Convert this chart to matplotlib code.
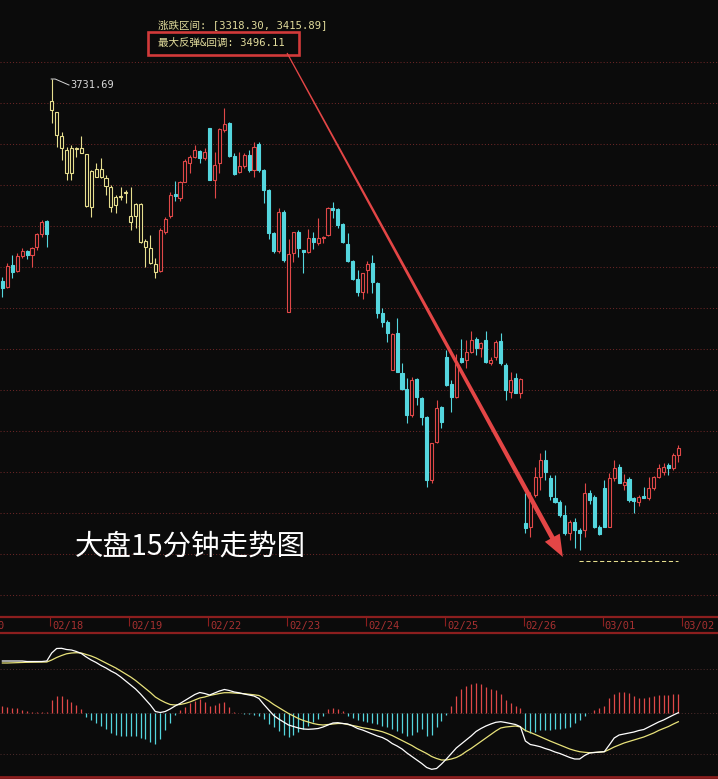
import numpy as np
import matplotlib
matplotlib.use('Agg')
import matplotlib.pyplot as plt
from matplotlib.patches import Rectangle, Polygon
from matplotlib.transforms import IdentityTransform, blended_transform_factory

# ---------------- data ----------------
first_index = -10          # bar index of the first candle (0 = first bar of 02/18)
opens = [3630.9, 3627.9, 3638.7, 3635.9, 3643.2, 3645.7, 3643.7, 3647.9, 3654.2, 3660.7,
         3720.7, 3715.2, 3703.2, 3696.2, 3684.7, 3697.4, 3694.7, 3694.2, 3667.7, 3686.7,
         3682.7, 3682.2, 3677.7, 3668.7, 3673.2, 3674.7, 3663.2, 3663.2, 3669.2, 3650.9,
         3647.2, 3639.2, 3635.7, 3655.2, 3663.2, 3674.2, 3672.2, 3680.2, 3689.7, 3692.7,
         3695.7, 3692.2, 3707.2, 3681.2, 3689.7, 3706.2, 3709.7, 3693.2, 3685.2, 3688.2,
         3693.7, 3686.2, 3699.2, 3686.2, 3676.2, 3654.7, 3645.7, 3665.2, 3615.2, 3644.7,
         3655.2, 3646.2, 3645.2, 3652.2, 3649.7, 3652.2, 3653.7, 3667.2, 3666.7, 3659.2,
         3649.2, 3640.7, 3631.7, 3625.2, 3636.2, 3639.7, 3629.7, 3614.7, 3610.2, 3586.2,
         3604.7, 3584.7, 3576.7, 3563.7, 3581.7, 3572.2, 3562.7, 3531.2, 3550.2, 3567.7,
         3592.7, 3579.2, 3572.7, 3592.2, 3591.2, 3595.2, 3601.7, 3597.2, 3601.2, 3589.7,
         3592.7, 3600.7, 3588.7, 3575.2, 3582.2, 3574.7, 3509.7, 3507.7, 3523.7, 3532.7,
         3541.2, 3532.2, 3522.2, 3520.2, 3513.7, 3504.7, 3510.2, 3506.2, 3506.2, 3524.7,
         3522.7, 3507.7, 3527.2, 3507.7, 3532.2, 3537.7, 3528.7, 3531.7, 3522.2, 3520.2,
         3523.2, 3522.2, 3527.2, 3532.7, 3535.2, 3538.7, 3537.2, 3543.7]
highs = [3632.9, 3639.6, 3643.7, 3644.9, 3647.2, 3646.2, 3647.9, 3654.6, 3661.2, 3661.2,
         3731.69, 3715.2, 3705.2, 3697.7, 3698.7, 3697.9, 3703.2, 3694.2, 3686.2, 3689.7,
         3692.2, 3683.7, 3678.7, 3673.7, 3677.7, 3676.2, 3677.7, 3669.7, 3669.7, 3651.7,
         3653.7, 3642.2, 3657.2, 3662.7, 3675.2, 3680.7, 3680.7, 3691.7, 3693.7, 3698.7,
         3696.2, 3697.2, 3707.2, 3695.2, 3707.2, 3717.2, 3710.2, 3694.7, 3695.2, 3694.7,
         3696.2, 3700.2, 3700.2, 3686.7, 3676.7, 3655.2, 3667.2, 3666.2, 3651.7, 3655.2,
         3656.2, 3646.2, 3656.7, 3655.2, 3662.2, 3653.2, 3667.7, 3670.2, 3667.2, 3659.7,
         3654.7, 3641.2, 3636.2, 3634.7, 3640.7, 3643.7, 3630.2, 3617.2, 3611.2, 3604.7,
         3612.2, 3589.7, 3582.2, 3582.7, 3582.2, 3572.7, 3563.2, 3549.7, 3571.2, 3568.2,
         3596.2, 3581.2, 3594.2, 3601.7, 3601.2, 3605.7, 3602.7, 3600.2, 3605.7, 3592.7,
         3601.2, 3604.7, 3589.7, 3585.2, 3584.7, 3582.2, 3524.7, 3525.2, 3537.7, 3544.7,
         3546.2, 3533.7, 3533.7, 3521.2, 3518.7, 3511.2, 3512.2, 3507.2, 3529.7, 3526.2,
         3523.7, 3508.7, 3531.2, 3534.7, 3541.2, 3539.2, 3534.2, 3532.7, 3522.7, 3523.7,
         3527.7, 3532.7, 3533.2, 3539.2, 3539.7, 3539.7, 3544.7, 3548.7]
lows = [3622.9, 3627.1, 3632.2, 3635.4, 3642.2, 3641.6, 3637.5, 3646.2, 3652.9, 3647.9,
        3709.7, 3697.7, 3691.2, 3681.2, 3681.2, 3692.9, 3694.7, 3667.9, 3662.7, 3682.7,
        3682.2, 3673.7, 3665.2, 3664.7, 3671.2, 3669.7, 3656.2, 3657.2, 3649.7, 3637.9,
        3639.2, 3632.2, 3635.2, 3654.2, 3662.2, 3670.7, 3670.7, 3680.2, 3684.7, 3692.2,
        3689.7, 3691.2, 3681.2, 3672.2, 3684.7, 3705.2, 3692.7, 3683.7, 3684.7, 3687.2,
        3685.2, 3682.7, 3685.2, 3669.7, 3651.7, 3644.7, 3644.7, 3640.2, 3615.2, 3640.2,
        3642.7, 3634.9, 3644.7, 3646.7, 3648.7, 3649.7, 3653.2, 3662.2, 3657.2, 3649.7,
        3640.2, 3631.2, 3623.2, 3621.7, 3624.7, 3624.7, 3612.2, 3607.7, 3600.2, 3586.2,
        3585.2, 3576.2, 3559.7, 3562.7, 3568.7, 3558.7, 3527.7, 3529.7, 3549.7, 3557.2,
        3578.2, 3565.2, 3572.2, 3589.7, 3587.2, 3594.7, 3593.7, 3592.7, 3589.7, 3588.7,
        3591.2, 3588.7, 3571.2, 3572.2, 3574.7, 3572.2, 3504.7, 3502.7, 3522.7, 3526.2,
        3531.2, 3521.2, 3519.7, 3512.7, 3503.7, 3501.2, 3497.2, 3496.1, 3502.7, 3519.2,
        3507.2, 3503.7, 3507.7, 3507.7, 3530.7, 3529.7, 3526.2, 3520.2, 3514.7, 3518.2,
        3522.2, 3521.2, 3526.2, 3532.2, 3533.7, 3533.7, 3536.2, 3540.2]
closes = [3627.1, 3638.4, 3635.4, 3643.2, 3645.7, 3643.6, 3647.4, 3654.1, 3660.4, 3654.2,
          3716.2, 3703.7, 3697.2, 3684.7, 3697.2, 3696.7, 3697.2, 3668.2, 3685.7, 3682.7,
          3686.7, 3678.2, 3667.7, 3672.7, 3672.6, 3675.2, 3660.2, 3669.2, 3650.2, 3647.5,
          3639.7, 3635.2, 3656.2, 3661.7, 3673.7, 3673.2, 3680.2, 3690.7, 3692.7, 3696.2,
          3692.2, 3695.2, 3681.2, 3688.7, 3706.7, 3709.2, 3693.2, 3684.2, 3688.2, 3693.7,
          3686.2, 3697.7, 3686.2, 3676.2, 3654.7, 3645.7, 3665.2, 3641.2, 3644.2, 3655.2,
          3647.2, 3645.2, 3652.2, 3650.2, 3652.2, 3652.7, 3667.2, 3666.2, 3658.7, 3650.2,
          3640.7, 3631.7, 3625.2, 3634.7, 3639.2, 3630.2, 3614.7, 3610.2, 3604.7, 3604.2,
          3585.2, 3576.7, 3563.7, 3581.2, 3572.7, 3562.7, 3531.2, 3549.7, 3567.2, 3560.2,
          3578.7, 3572.7, 3589.2, 3590.2, 3595.2, 3601.2, 3597.2, 3599.7, 3590.2, 3591.2,
          3600.2, 3589.7, 3576.2, 3581.2, 3574.7, 3581.7, 3507.2, 3521.2, 3532.7, 3541.2,
          3535.2, 3523.2, 3520.2, 3513.7, 3504.7, 3510.2, 3506.2, 3504.7, 3524.7, 3521.2,
          3507.7, 3504.2, 3507.7, 3532.2, 3537.2, 3529.7, 3530.2, 3521.2, 3520.7, 3522.7,
          3522.2, 3527.2, 3532.7, 3537.2, 3537.7, 3537.2, 3543.7, 3547.2]
highlight_first, highlight_last = 0, 21     # selected interval (drawn in yellow)

dif = [5.17, 5.17, 5.17, 5.17, 5.17, 5.12, 5.12, 5.12, 5.12, 5.17,
       5.97, 6.42, 6.44, 6.32, 6.27, 6.12, 5.92, 5.57, 5.27, 5.02,
       4.72, 4.47, 4.17, 3.92, 3.57, 3.17, 2.77, 2.37, 1.87, 1.32,
       0.77, 0.12, 0.02, 0.12, 0.37, 0.67, 0.92, 1.22, 1.52, 1.82,
       2.02, 1.92, 1.77, 1.97, 2.17, 2.32, 2.22, 2.07, 1.99, 1.87,
       1.77, 1.67, 1.42, 0.82, 0.27, -0.28, -0.63, -0.93, -1.23, -1.38,
       -1.53, -1.63, -1.66, -1.63, -1.58, -1.43, -1.23, -1.03, -1.00, -1.08,
       -1.13, -1.33, -1.58, -1.73, -1.93, -2.13, -2.33, -2.48, -2.73, -3.08,
       -3.33, -3.63, -4.03, -4.38, -4.73, -5.08, -5.48, -5.66, -5.58, -5.13,
       -4.63, -4.08, -3.53, -3.13, -2.73, -2.33, -1.88, -1.58, -1.33, -1.13,
       -0.96, -0.90, -0.98, -1.08, -1.18, -1.40, -2.83, -3.18, -3.28, -3.40,
       -3.58, -3.73, -3.93, -4.08, -4.28, -4.48, -4.63, -4.63, -4.28, -4.03,
       -3.98, -3.93, -3.90, -3.23, -2.53, -2.23, -2.13, -2.03, -1.93, -1.78,
       -1.68, -1.43, -1.18, -0.93, -0.73, -0.48, -0.23, 0.00]
dea = [4.97, 4.97, 4.99, 5.01, 5.03, 5.04, 5.05, 5.06, 5.07, 5.07,
       5.27, 5.52, 5.72, 5.89, 5.97, 6.00, 5.97, 5.82, 5.67, 5.47,
       5.22, 4.97, 4.72, 4.47, 4.17, 3.87, 3.57, 3.22, 2.82, 2.42,
       2.02, 1.57, 1.27, 1.02, 0.82, 0.77, 0.82, 0.92, 1.07, 1.27,
       1.47, 1.57, 1.72, 1.82, 1.92, 2.00, 2.00, 1.97, 1.94, 1.90,
       1.85, 1.79, 1.72, 1.47, 1.17, 0.82, 0.52, 0.22, -0.08, -0.33,
       -0.58, -0.78, -0.93, -1.08, -1.18, -1.23, -1.18, -1.13, -1.08, -1.08,
       -1.18, -1.28, -1.38, -1.50, -1.58, -1.68, -1.78, -1.90, -2.08, -2.28,
       -2.53, -2.78, -3.03, -3.28, -3.58, -3.83, -4.08, -4.38, -4.58, -4.73,
       -4.73, -4.63, -4.48, -4.23, -3.88, -3.58, -3.23, -2.88, -2.53, -2.18,
       -1.83, -1.53, -1.43, -1.38, -1.33, -1.43, -1.78, -1.98, -2.18, -2.40,
       -2.63, -2.83, -3.03, -3.23, -3.43, -3.63, -3.78, -3.90, -3.96, -4.00,
       -3.98, -3.95, -3.90, -3.68, -3.43, -3.23, -3.03, -2.88, -2.73, -2.58,
       -2.43, -2.23, -2.03, -1.78, -1.58, -1.38, -1.13, -0.90]
macd_hist = [0.64, 0.60, 0.50, 0.44, 0.27, 0.12, 0.07, 0.04, 0.02, 0.05,
             1.27, 1.62, 1.67, 1.37, 1.02, 0.77, 0.32, -0.43, -0.78, -1.03,
             -1.33, -1.68, -2.08, -2.28, -2.33, -2.38, -2.33, -2.38, -2.53, -2.68,
             -2.90, -3.18, -2.63, -1.73, -1.03, -0.23, 0.22, 0.57, 0.92, 1.17,
             1.32, 1.07, 0.62, 0.77, 0.92, 1.02, 0.57, 0.07, -0.08, -0.13,
             -0.18, -0.23, -0.33, -0.63, -1.13, -1.48, -1.83, -2.28, -2.46, -2.28,
             -1.93, -1.63, -1.33, -0.93, -0.63, -0.38, 0.32, 0.47, 0.37, 0.17,
             -0.33, -0.58, -0.73, -0.88, -0.93, -1.03, -1.18, -1.33, -1.48, -1.68,
             -1.83, -2.08, -2.38, -2.23, -1.93, -1.63, -2.33, -2.28, -1.43, -0.83,
             -0.23, 0.67, 1.67, 2.32, 2.62, 2.82, 2.92, 2.87, 2.52, 2.37,
             2.27, 1.87, 1.27, 0.94, 0.67, 0.47, -1.88, -2.06, -1.98, -1.78,
             -1.73, -1.78, -1.63, -1.68, -1.58, -1.43, -1.08, -0.78, -0.33, -0.03,
             0.22, 0.42, 0.67, 1.42, 1.87, 2.02, 2.07, 1.92, 1.67, 1.47,
             1.44, 1.52, 1.62, 1.74, 1.77, 1.77, 1.84, 1.87]

day_labels = ['02/10', '02/18', '02/19', '02/22', '02/23', '02/24', '02/25', '02/26', '03/01', '03/02']
day_start = [-16, 0, 16, 32, 48, 64, 80, 96, 112, 128]

price_grid = [3740.2, 3719.7, 3699.2, 3678.7, 3658.2, 3637.7, 3617.2, 3596.7,
              3576.2, 3555.7, 3535.2, 3514.7, 3494.2, 3473.7]
macd_grid = [4.34, 0.0, -4.16]

peak_index, peak_value = 0, 3731.69
support_level, support_from, support_to = 3490.7, 106.9, 126.9
arrow_from = (47.7, 3744.7)
arrow_to = (103.6, 3492.7)

range_text = '涨跌区间: [3318.30, 3415.89]'
rebound_text = '最大反弹&回调: 3496.11'
title_text = '大盘15分钟走势图'

# ---------------- style ----------------
BG = '#0b0b0b'
RED = '#e04848'
CYAN = '#54d6de'
YELLOW = '#e6de8e'
GRID = '#6a2626'
AXRED = '#8c1e1e'
LBLRED = '#a63030'
MONO = ['DejaVu Sans Mono', 'Noto Sans CJK SC']

W_PX, H_PX = 718, 779
fig = plt.figure(figsize=(W_PX / 100, H_PX / 100), dpi=100, facecolor=BG)

def fy(py):
    return 1 - py / H_PX

XLIM = (-10.48, 135.04)

# main price panel
ax = fig.add_axes([0, fy(617), 1, 617 / H_PX])
ax.set_facecolor(BG)
ax.set_xlim(*XLIM)
ax.set_ylim(3462.7, 3771.2)
for s in ax.spines.values():
    s.set_visible(False)
ax.set_xticks([])
ax.set_yticks([])

ax.hlines(price_grid, XLIM[0], XLIM[1], colors=GRID, linestyles=(0, (1, 2)), lw=0.75, zorder=0)

BW = 0.62
n = len(opens)
for i in range(n):
    k = first_index + i
    o, h, l, c = opens[i], highs[i], lows[i], closes[i]
    if highlight_first <= k <= highlight_last:
        col, fill = YELLOW, BG
    elif c >= o:
        col, fill = RED, BG
    else:
        col, fill = CYAN, CYAN
    top, bot = max(o, c), min(o, c)
    if top - bot < 0.6:
        m = (top + bot) / 2
        top, bot = m + 0.3, m - 0.3
    if fill == BG:
        ax.vlines(k, top, h, colors=col, lw=0.8, zorder=2)
        ax.vlines(k, l, bot, colors=col, lw=0.8, zorder=2)
    else:
        ax.vlines(k, l, h, colors=col, lw=0.8, zorder=2)
    ax.add_patch(Rectangle((k - BW / 2, bot), BW, top - bot, facecolor=fill,
                           edgecolor=col, lw=0.8, zorder=3))

# peak label
ax.plot([peak_index - 0.1, peak_index + 0.7, peak_index + 3.5],
        [peak_value, peak_value, peak_value - 3.0], color='#d8d8d8', lw=0.7, zorder=4)
ax.text(peak_index + 3.8, peak_value - 3.0, '3731.69', color='#d8d8d8', fontsize=7.5,
        family=MONO, ha='left', va='center', zorder=4)

# support dashed line
ax.hlines(support_level, support_from, support_to, colors=YELLOW, lw=0.75,
          linestyles=(0, (4, 2.6)), zorder=4)

# MACD panel
ax2 = fig.add_axes([0, fy(777), 1, 144 / H_PX])
ax2.set_facecolor(BG)
ax2.set_xlim(*XLIM)
ax2.set_ylim(-6.43, 7.97)
for s in ax2.spines.values():
    s.set_visible(False)
ax2.spines['bottom'].set_visible(True)
ax2.spines['bottom'].set_color(AXRED)
ax2.spines['bottom'].set_linewidth(2)
ax2.set_xticks([])
ax2.set_yticks([])
ax2.hlines(macd_grid, XLIM[0], XLIM[1], colors='#4a2a2a', linestyles=(0, (1, 2)), lw=0.75, zorder=0)
ks = np.arange(first_index, first_index + n)
hist = np.array(macd_hist)
ax2.vlines(ks[hist >= 0], 0, hist[hist >= 0], colors=RED, lw=0.9, zorder=2)
ax2.vlines(ks[hist < 0], 0, hist[hist < 0], colors=CYAN, lw=0.9, zorder=2)
ax2.plot(ks, dea, color='#e8e27a', lw=0.9, zorder=3)
ax2.plot(ks, dif, color='#ffffff', lw=0.9, zorder=4)

# date band
axb = fig.add_axes([0, fy(633), 1, 16 / H_PX])
axb.set_facecolor(BG)
axb.set_xlim(*XLIM)
axb.set_ylim(0, 1)
axb.set_xticks([])
axb.set_yticks([])
for side in ['left', 'right']:
    axb.spines[side].set_visible(False)
for side in ['top', 'bottom']:
    axb.spines[side].set_color(AXRED)
    axb.spines[side].set_linewidth(1.6)
for lab, k in zip(day_labels, day_start):
    axb.vlines(k - 0.25, 0.45, 1.0, colors=AXRED, lw=0.8)
    axb.text(k + 0.1, 0.45, lab, color=LBLRED, fontsize=7.5, family=MONO,
             ha='left', va='center', clip_on=True)

# header texts and box
fig.text(158 / W_PX, fy(25), range_text, color='#e2dc9c', fontsize=7.6, family=MONO,
         ha='left', va='center')
fig.text(158 / W_PX, fy(43), rebound_text, color='#e2dc9c', fontsize=7.6, family=MONO,
         ha='left', va='center')
fig.add_artist(Rectangle((148 / W_PX, fy(55)), 151 / W_PX, 23 / H_PX, fill=False,
                         edgecolor='#d23a3a', lw=1.9, transform=fig.transFigure))

# big caption
fig.text(75 / W_PX, fy(547), title_text, color='white', fontsize=20.5,
         family=['Noto Sans CJK SC'], ha='left', va='center')

# tapered red arrow
p0 = ax.transData.transform(arrow_from)
p1 = ax.transData.transform(arrow_to)
d = p1 - p0
u = d / np.hypot(*d)
nv = np.array([-u[1], u[0]])
head_len, head_w, w0, w1 = 22, 8.5, 0.6, 2.4
b = p1 - u * head_len
pts = [p0 + nv * w0, b + nv * w1, b + nv * head_w, p1, b - nv * head_w, b - nv * w1, p0 - nv * w0]
fig.add_artist(Polygon(pts, closed=True, facecolor='#e44646', edgecolor='none',
                       transform=IdentityTransform(), zorder=10))

fig.savefig('out.png', dpi=100, facecolor=BG)
